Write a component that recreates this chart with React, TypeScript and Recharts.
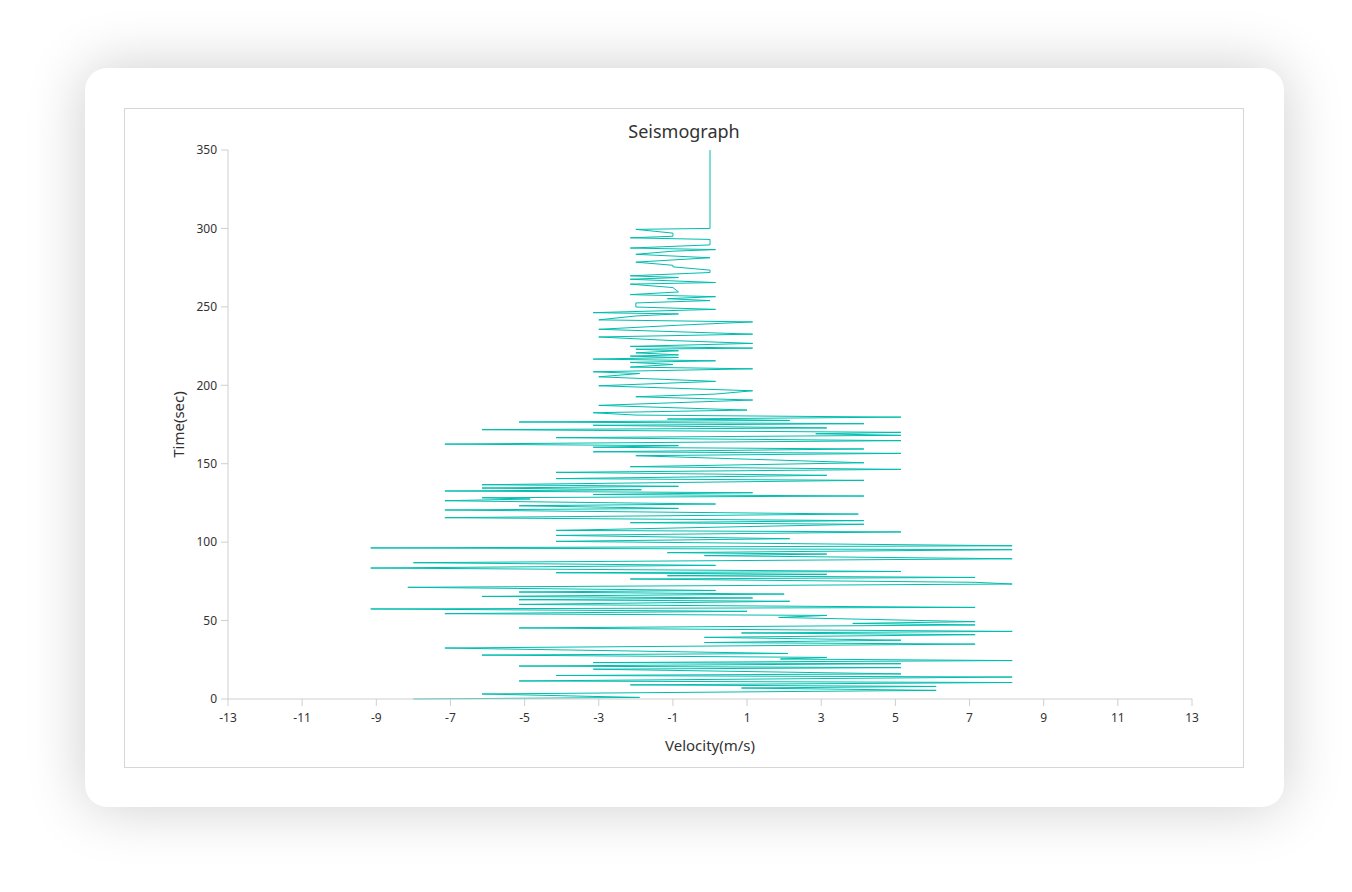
import React from 'react'
import { LineChart, Line, XAxis, YAxis } from 'recharts'

// seismograph trace, bottom (t = 0) to top
const timeSec = [
    0, 1, 3.2, 5.5, 7, 8, 9, 10.5, 11.5, 14, 15, 16, 19, 20, 21, 22.5, 23.2, 24.5, 25.5, 26.5, 28, 29, 32.5, 35, 36, 37.5,
    39.3, 41, 42.1, 43.1, 45.3, 47.2, 48.2, 49.3, 52, 53.3, 54.4, 55.9, 57.4, 58.4, 60.3, 62.3, 63.3, 64.4, 65.4, 66.9, 68.2, 69.2, 71.2, 73.3, 74.4, 76.5,
    77.5, 78.6, 79.5, 80.5, 81.3, 83.5, 85.2, 86.9, 89.4, 91.4, 92.4, 93.3, 95.2, 96.3, 97.7, 100.5, 102.2, 104.3, 106.5, 107.5, 111.4, 112.4, 113.7, 115.6,
    117.9, 120.5, 121.5, 123.2, 124.3, 126.4, 127.5, 128.3, 129.4, 130.4, 131.5, 132.6, 133.4, 134.5, 135.6, 136.6, 139.4, 140.5, 142.6, 144.5, 146.4, 148.1, 150.6,
    155.1, 156.6, 157.6, 159.4, 160.5, 161.5, 162.5, 164.7, 166.6, 168.1, 169.1, 170, 171.7, 172.8, 174.5, 175.5, 176.6, 177.6, 178.5, 179.7, 181, 182.5, 184.2, 187.2, 190.6,
    192.7, 194.4, 196.5, 199.7, 202.5, 205.4, 207.5, 208.6, 210.5, 211.6, 213.3, 214.6, 215.6, 216.7, 217.7, 218.6, 219.4, 220.7, 222, 223, 223.7, 224.8,
    226.7, 228.5, 230.8, 232.6, 235.7, 238.3, 240.4, 241.7, 244.2, 245.5, 246.3, 248.4, 249.9, 252.5, 254, 255.2, 256.5, 257.8, 259.5, 262.3, 264.5, 265.5,
    267.6, 268.7, 269.8, 271.9,
    273.4, 275.5, 276.5, 278.5, 281.3, 283.5, 285.5, 286.5, 287.5, 289.5, 293, 294, 295, 297, 299.4, 300, 350,
]

const velocity = [
    -8, -1.9, -6.15, 6.1, 0.85, 6.1, -2.15, 8.15, -5.15, 8.15, -4.15, 5.15, -3.15, 5.15, -5.15, 5.15, -3.15, 8.15, 1.9, 3.15, -6.15, 2.1, -7.15, 7.15, -0.15, 5.15,
    -0.15, 7.15, 0.85, 8.15, -5.15, 7.15, 3.85, 7.15, 1.85, 3.15, -7.15, 1, -9.15, 7.15, -5.15, 2.15, -5.15, 1.15, -6.15, 2, -5.15, 0.15, -8.15, 8.15, 7.15, -2.15,
    7.15, -1.15, 3.15, -4.15, 5.15, -9.15, 0.15, -8, 8.15, -0.15, 3.15, -1.15, 8.15, -9.15, 8.15, -4.15, 2.15, -4.15, 5.15, -4.15, 4.15, -2.15, 4.15, -7.15,
    4, -7.15, -0.85, -5.15, 0.15, -7.15, -4.85, -6.15, 4.15, -3.15, 1.15, -7.15, -1.85, -6.15, -0.85, -6.15, 4.15, -4.15, 3.15, -4.15, 5.15, -2.15, 4.15,
    -2, 5.15, -3.15, 4.15, -3.15, -0.85, -7.15, 5.15, -4.15, 5.15, 2.85, 5.15, -6.15, 3.15, -3.15, 4.15, -5.15, 2.15, -1.15, 5.15, -2, -3.15, 1, -3, 1.15,
    -2, 0.15, 1.15, -3, 0.15, -3, -1.9, -3.15, 1.15, -2.15, -1, -2.15, 0.15, -3.15, -0.85, -2.15, -0.85, -2, -0.85, -2, 1.15, -2.15,
    1.15, -1, -3, 1.15, -3, -0.85, 1.15, -3, -2, -0.85, -3.15, 0.15, -2, -2, 0, -1.15, 0.15, -2.15, -0.85, -1, -2.15, 0.15,
    -2.15, -0.85, -2.15, 0,
    0, -1, -1, -2, 0, -2, -1, 0.15, -2.15, 0, 0, -2.15, -1, -1, -2, 0, 0,
]

const velocityTicks = [-13, -11, -9, -7, -5, -3, -1, 1, 3, 5, 7, 9, 11, 13]
const timeTicks = [0, 50, 100, 150, 200, 250, 300, 350]

const data = timeSec.map((t, i) => ({ t, v: velocity[i] }))

const font = '"Segoe UI", "Noto Sans", "Open Sans", sans-serif'
const axisColor = '#cfcfcf'

export default function App() {
    return (
        <div style={{ position: 'absolute', left: 0, top: 0, width: 1352, height: 892, background: '#fff', fontFamily: font }}>
            <div
                style={{
                    position: 'absolute',
                    left: 85,
                    top: 68,
                    width: 1199,
                    height: 739,
                    background: '#fff',
                    borderRadius: 22,
                    boxShadow: '0 0 60px rgba(0,0,0,0.2)',
                }}
            />
            <div
                style={{
                    position: 'absolute',
                    left: 124,
                    top: 108,
                    width: 1118,
                    height: 658,
                    border: '1px solid #d6d6d6',
                    background: '#fff',
                }}
            >
                <div
                    style={{
                        position: 'absolute',
                        left: 0,
                        top: 10,
                        width: '100%',
                        textAlign: 'center',
                        fontSize: 18,
                        color: '#333',
                    }}
                >
                    Seismograph
                </div>
                <LineChart
                    layout="vertical"
                    width={1118}
                    height={658}
                    data={data}
                    margin={{ top: 41, right: 51, left: 43, bottom: 38 }}
                >
                    <XAxis
                        type="number"
                        dataKey="v"
                        domain={[-13, 13]}
                        ticks={velocityTicks}
                        interval={0}
                        height={30}
                        tickSize={7}
                        tickMargin={7}
                        stroke={axisColor}
                        tick={{ fill: '#333', fontSize: 12, fontFamily: font }}
                        label={{ value: 'Velocity(m/s)', position: 'bottom', offset: 11, fill: '#333', fontSize: 15, fontFamily: font }}
                    />
                    <YAxis
                        type="number"
                        dataKey="t"
                        domain={[0, 350]}
                        ticks={timeTicks}
                        interval={0}
                        reversed
                        width={60}
                        tickSize={7}
                        tickMargin={4}
                        stroke={axisColor}
                        tick={{ fill: '#333', fontSize: 12, fontFamily: font }}
                        label={{ value: 'Time(sec)', angle: -90, position: 'insideLeft', offset: 11, fill: '#333', fontSize: 15, fontFamily: font, style: { textAnchor: 'middle' } }}
                    />
                    <Line
                        dataKey="v"
                        type="linear"
                        stroke="#00bdae"
                        strokeWidth={1}
                        dot={false}
                        isAnimationActive={false}
                    />
                </LineChart>
            </div>
        </div>
    )
}
